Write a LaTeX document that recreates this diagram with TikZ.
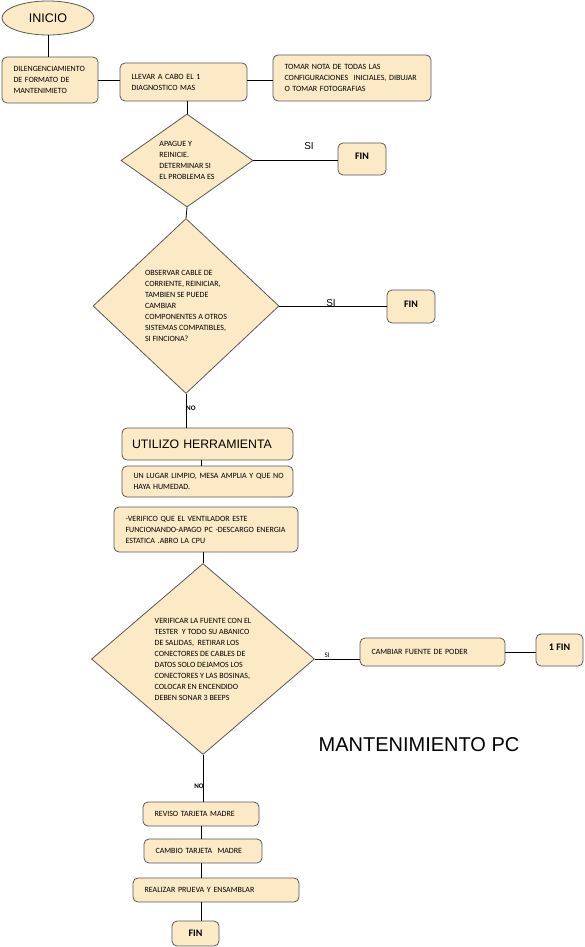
\documentclass[tikz,border=0pt]{standalone}
\usepackage{fontspec}
\setmainfont{Carlito}
\newfontfamily\arialf{Liberation Sans}
\usetikzlibrary{shapes.geometric}
\definecolor{fillcol}{RGB}{252,233,198}
\definecolor{edgecol}{RGB}{90,90,90}
\newcommand\smalltxt{\fontsize{8}{11}\selectfont}
\tikzset{
  box/.style={draw=edgecol, fill=fillcol, rounded corners=5pt, line width=0.8pt, font=\smalltxt, align=left, inner xsep=11.5pt, inner ysep=0pt},
  dec/.style={draw=edgecol, fill=fillcol, shape=diamond, line width=0.8pt, font=\smalltxt, align=left, inner sep=0pt},
  finbox/.style={draw=edgecol, fill=fillcol, rounded corners=5pt, line width=0.8pt, font=\bfseries\fontsize{10}{12}\selectfont, inner sep=0pt},
  conn/.style={line width=0.8pt, draw=black},
  sitxt/.style={font=\arialf\fontsize{10}{12}\selectfont, inner sep=0pt},
  smalllbl/.style={font=\bfseries\fontsize{7}{8}\selectfont, inner sep=0pt}
}
\begin{document}
\begin{tikzpicture}[x=1pt, y=-1pt]
\useasboundingbox (0,0) rectangle (584,947);
\fill[white] (0,0) rectangle (584,947);

\node[draw=edgecol, fill=fillcol, line width=0.8pt, shape=ellipse, minimum width=92pt, minimum height=34pt, inner sep=0pt, font=\arialf\fontsize{12.5}{14}\selectfont] (ini) at (48,18) {INICIO};

\node[box, minimum width=96pt, text width=73pt, minimum height=46pt] (b1) at (50,80) {\mbox{DILENGENCIAMIENTO}\\DE FORMATO DE\\MANTENIMIETO};
\node[box, minimum width=127pt, text width=104pt, minimum height=38pt] (b2) at (183.5,82) {LLEVAR A CABO EL 1\\DIAGNOSTICO MAS};
\node[box, minimum width=158pt, text width=135pt, minimum height=46pt] (b3) at (352,78) {TOMAR NOTA DE TODAS LAS\\\mbox{CONFIGURACIONES\ \ INICIALES, DIBUJAR}\\O TOMAR FOTOGRAFIAS};

\node[dec, minimum width=132pt, minimum height=93pt, aspect=1.42] (d1) at (187,160.5) {APAGUE Y\\REINICIE.\\DETERMINAR SI\\EL PROBLEMA ES};
\node[finbox, minimum width=48pt, minimum height=32pt] (fin1) at (362,159) {\raisebox{5pt}{FIN}};

\node[dec, minimum width=186pt, minimum height=175pt, aspect=1.06] (d2) at (186,306) {OBSERVAR CABLE DE\\CORRIENTE, REINICIAR,\\TAMBIEN SE PUEDE\\CAMBIAR\\COMPONENTES A OTROS\\SISTEMAS COMPATIBLES,\\SI FINCIONA?};
\node[finbox, minimum width=48pt, minimum height=33pt] (fin2) at (411,306.5) {\raisebox{5pt}{FIN}};

\node[box, minimum width=171pt, text width=151pt, inner xsep=10pt, minimum height=32pt, font=\arialf\fontsize{12.3}{14}\selectfont] (util) at (207.5,444) {UTILIZO HERRAMIENTA};
\node[box, minimum width=171pt, text width=148pt, minimum height=31pt] (lugar) at (207.5,481.5) {\mbox{UN LUGAR LIMPIO, MESA AMPLIA Y QUE NO}\\HAYA HUMEDAD.};
\node[box, minimum width=184pt, text width=161pt, minimum height=45pt] (verif) at (206,529.5) {\mbox{-VERIFICO QUE EL VENTILADOR ESTE}\\\mbox{FUNCIONANDO-APAGO PC -DESCARGO ENERGIA}\\ESTATICA .ABRO LA CPU};

\node[dec, minimum width=223pt, minimum height=191pt, aspect=1.17] (d3) at (203,659) {VERIFICAR LA FUENTE CON EL\\TESTER\ \ Y TODO SU ABANICO\\DE SALIDAS,\ \ RETIRAR LOS\\CONECTORES DE CABLES DE\\DATOS SOLO DEJAMOS LOS\\CONECTORES Y LAS BOSINAS,\\COLOCAR EN ENCENDIDO\\DEBEN SONAR 3 BEEPS};
\node[box, minimum width=145pt, text width=122pt, minimum height=28pt] (cfp) at (432.5,652) {\mbox{CAMBIAR FUENTE DE PODER}};
\node[finbox, minimum width=47pt, minimum height=32pt] (fin3) at (559.5,650) {\raisebox{5pt}{1 FIN}};

\node[font=\arialf\fontsize{20}{24}\selectfont, inner sep=0pt] (title) at (419,745) {MANTENIMIENTO PC};

\node[box, minimum width=116pt, text width=93pt, minimum height=24pt] (rev) at (201,814) {\mbox{REVISO TARJETA MADRE}};
\node[box, minimum width=118pt, text width=95pt, minimum height=24pt] (cam) at (203,851) {\mbox{CAMBIO TARJETA\ \ MADRE}};
\node[box, minimum width=166pt, text width=143pt, minimum height=24pt] (real) at (216,890) {\mbox{REALIZAR PRUEVA Y ENSAMBLAR}};
\node[finbox, minimum width=47pt, minimum height=25pt] (finB) at (195.5,933.5) {\raisebox{1pt}{FIN}};

\coordinate (spine) at (201,0);

% connectors
\draw[conn] (ini.south) -- (ini.south |- b1.north);
\draw[conn] (b1.east) -- (b1.east -| b2.west);
\draw[conn] (b2.east |- b1.east) -- (b3.west |- b1.east);
\draw[conn] (d1.north |- b2.south) -- (d1.north);
\draw[conn] (d1.east) -- (d1.east -| fin1.west);
\node[sitxt] (si1) at (309,146) {SI};
\draw[conn] (d1.south) -- (d2.north);
\draw[conn] (d2.east) -- (d2.east -| fin2.west);
\node[sitxt] (si2) at (331,303) {SI};
\draw[conn] (d2.south) -- (d2.south |- util.north);
\node[smalllbl, anchor=west] (no1) at (186,408) {NO};
\draw[conn] (util.south -| spine) -- (lugar.north -| spine);
\draw[conn] (verif.south -| d3.north) -- (d3.north);
\draw[conn] (d3.east) -- (d3.east -| cfp.west);
\node[smalllbl, font=\fontsize{7}{8}\selectfont] (si3) at (327,655) {SI};
\draw[conn] (cfp.east) -- (cfp.east -| fin3.west);
\draw[conn] (d3.south) -- (d3.south |- rev.north);
\node[smalllbl] (no2) at (199,786) {NO};
\draw[conn] (rev.south -| spine) -- (cam.north -| spine);
\draw[conn] (cam.south -| spine) -- (real.north -| spine);
\draw[conn] (real.south -| spine) -- (finB.north -| spine);
\end{tikzpicture}
\end{document}
